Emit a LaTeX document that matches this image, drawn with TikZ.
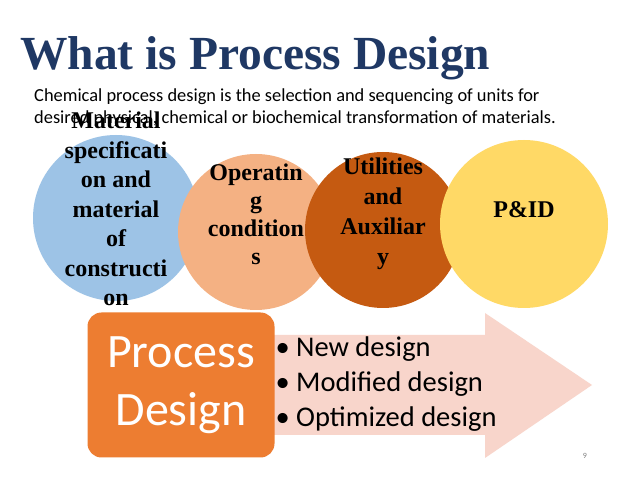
\documentclass[tikz,border=0pt]{standalone}
\usepackage{fontspec}
\setmainfont{Liberation Serif}
\newfontfamily\carl{Carlito}
\definecolor{cblue}{HTML}{9DC3E6}
\definecolor{clor}{HTML}{F4B183}
\definecolor{cdark}{HTML}{C55A11}
\definecolor{cyel}{HTML}{FFD966}
\definecolor{corg}{HTML}{ED7D31}
\definecolor{cpink}{HTML}{F8D5CB}
\definecolor{cnavy}{HTML}{1F3864}
\begin{document}
\begin{tikzpicture}[x=1pt,y=-1pt,
 circ/.style={circle,draw=none,minimum size=#1*2pt,inner sep=0},
 ctext/.style={font=\fontsize{24}{#1}\selectfont\bfseries,align=center,text=black},
 bul/.style={font=\carl\fontsize{28.5}{35}\selectfont,align=left,anchor=west}]
\useasboundingbox (0,0) rectangle (638,478);
\fill[white] (0,0) rectangle (638,478);
\node[anchor=base west,text=cnavy,font=\fontsize{47.5}{50}\selectfont\bfseries,inner sep=0] (title) at (20,70) {What is Process Design};
\node[circ=83,fill=cblue] (c1) at (116,218) {};
\node[circ=78,fill=clor] (c2) at (256,232) {};
\node[circ=78,fill=cdark] (c3) at (383,230) {};
\node[circ=84,fill=cyel] (c4) at (524,224) {};
\node[anchor=north west,font=\carl\fontsize{18.4}{22}\selectfont,align=left,inner sep=0] (desc) at (34,89) {Chemical process design is the selection and sequencing of units for\\desired physical, chemical or biochemical transformation of materials.};
\node[ctext=29.5] (t1) at (116,209) {Material\\specificati\\on and\\material\\of\\constructi\\on};
\node[ctext=28] (t2) at (256,214) {Operatin\\g\\condition\\s};
\node[ctext=30] (t3) at (383,214) {Utilities\\and\\Auxiliar\\y};
\node[ctext=30] (t4) at (524,210) {P\&ID};
\fill[cpink] (200,335) -- (485,335) -- (485,313) -- (592,385) -- (485,458) -- (485,435) -- (200,435) -- cycle;
\node[fill=corg,rounded corners=14pt,minimum width=187pt,minimum height=145pt,text=white,font=\carl\fontsize{48}{58}\selectfont,align=center] (pd) at (181,385) {Process\\Design};
\node[bul] (b) at (272,384) {• New design\\• Modified design\\• Optimized design};
\node[font=\carl\fontsize{8}{10}\selectfont,text=gray] (pg) at (585,456) {9};
\end{tikzpicture}
\end{document}
